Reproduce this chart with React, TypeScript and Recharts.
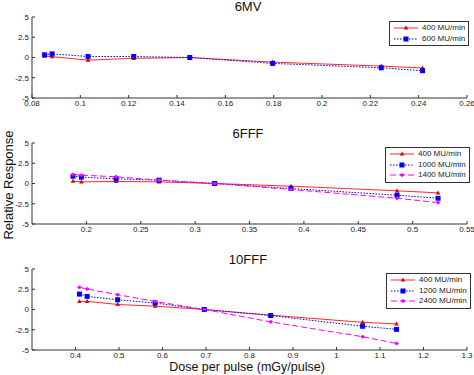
import { LineChart, Line, XAxis, YAxis, Legend } from 'recharts'

// dose per pulse (mGy/pulse) and relative response (%)
const dose6MV = [0.0852, 0.0883, 0.1032, 0.1221, 0.1453, 0.1796, 0.2245, 0.2416]
const mv6_400 = [0.16, 0.1, -0.33, -0.1, 0, -0.57, -1.06, -1.3]
const mv6_600 = [0.33, 0.45, 0.12, 0.12, 0, -0.73, -1.27, -1.63]

const dose6FFF = [0.1877, 0.1954, 0.2273, 0.2668, 0.318, 0.3882, 0.4857, 0.5234]
const fff6_400 = [0.29, 0.2, 0.25, 0.2, 0, -0.33, -0.9, -1.16]
const fff6_1000 = [0.9, 0.78, 0.58, 0.41, 0, -0.62, -1.45, -1.82]
const fff6_1400 = [1.1, 1.03, 0.83, 0.41, 0, -0.74, -1.82, -2.36]

const dose10FFF = [0.409, 0.4267, 0.4969, 0.583, 0.696, 0.8487, 1.06, 1.138]
const fff10_400 = [1.0, 1.0, 0.62, 0.41, 0, -0.7, -1.58, -1.78]
const fff10_1200 = [1.9, 1.62, 1.2, 0.8, 0, -0.75, -2.07, -2.45]
const fff10_2400 = [2.74, 2.53, 1.83, 1.0, 0, -1.53, -3.36, -4.19]

const ticks6MV = [0.08, 0.1, 0.12, 0.14, 0.16, 0.18, 0.2, 0.22, 0.24, 0.26]
const ticks6FFF = [0.2, 0.25, 0.3, 0.35, 0.4, 0.45, 0.5, 0.55]
const ticks10FFF = [0.4, 0.5, 0.6, 0.7, 0.8, 0.9, 1, 1.1, 1.2, 1.3]
const yTicks = [-5, -2.5, 0, 2.5, 5]

const FONT = '"Liberation Sans", Arial, sans-serif'

type Kind = 'red' | 'blue' | 'magenta'

const styles: Record<Kind, { stroke: string; dash?: string }> = {
  red: { stroke: '#ff2a2a' },
  blue: { stroke: '#0000ff', dash: '1.5 1.5' },
  magenta: { stroke: '#ff00ff', dash: '6 3' },
}

function Marker({ cx, cy, kind }: { cx: number; cy: number; kind: Kind }) {
  if (cx == null || cy == null) return null
  if (kind === 'red')
    return <path d={`M${cx},${cy - 2.5}L${cx + 2.3},${cy + 1.6}L${cx - 2.3},${cy + 1.6}Z`} fill="#e00000" />
  if (kind === 'blue')
    return <rect x={cx - 2.5} y={cy - 2.5} width={5} height={5} fill="#0000ff" />
  return (
    <g stroke="#ff00ff" strokeWidth={1}>
      <circle cx={cx} cy={cy} r={1.3} fill="#ff00ff" />
      <line x1={cx - 2} x2={cx + 2} y1={cy} y2={cy} />
    </g>
  )
}

interface Series {
  name: string
  values: number[]
  kind: Kind
}

function LegendBox({ series }: { series: Series[] }) {
  return (
    <div
      style={{
        border: '1px solid #333',
        background: '#fff',
        padding: '1px 3px 1px 3px',
        fontFamily: FONT,
        fontSize: 8,
        color: '#222',
        lineHeight: '10.5px',
      }}
    >
      {series.map((s) => (
        <div key={s.name} style={{ display: 'flex', alignItems: 'center', whiteSpace: 'nowrap' }}>
          <svg width={26} height={10} style={{ marginRight: 3 }}>
            <line x1={1} x2={25} y1={5} y2={5} stroke={styles[s.kind].stroke} strokeDasharray={styles[s.kind].dash} />
            <Marker cx={13} cy={5} kind={s.kind} />
          </svg>
          <span>{s.name}</span>
        </div>
      ))}
    </div>
  )
}

function Panel({
  title,
  dose,
  series,
  domain,
  ticks,
  top,
  legendLeft,
}: {
  title: string
  dose: number[]
  series: Series[]
  domain: [number, number]
  ticks: number[]
  top: number
  legendLeft: number
}) {
  const data = dose.map((d, i) => {
    const row: Record<string, number> = { dose: d }
    series.forEach((s) => (row[s.name] = s.values[i]))
    return row
  })
  const tickStyle = { fontSize: 8, fill: '#222', fontFamily: FONT }
  return (
    <div style={{ position: 'absolute', left: 0, top, width: 474, height: 125 }}>
      <div
        style={{
          position: 'absolute',
          left: 0,
          width: 496,
          top: top === 0 ? -1 : 0,
          textAlign: 'center',
          fontFamily: FONT,
          fontSize: 13,
          color: '#111',
        }}
      >
        {title}
      </div>
      <LineChart width={474} height={125} data={data} margin={{ top: 17, right: 7, left: 0, bottom: 7 }}>
        <XAxis
          dataKey="dose"
          type="number"
          domain={domain}
          ticks={ticks}
          allowDataOverflow
          interval={0}
          tickSize={-3}
          tickMargin={5}
          height={20}
          stroke="#333"
          tick={tickStyle}
          tickFormatter={(v: number) => String(Math.round(v * 1000) / 1000)}
        />
        <YAxis
          type="number"
          domain={[-5, 5]}
          ticks={yTicks}
          interval={0}
          width={32}
          tickSize={-3}
          tickMargin={6}
          stroke="#333"
          tick={tickStyle}
        />
        <Legend
          layout="vertical"
          verticalAlign="middle"
          align="center"
          content={() => <LegendBox series={series} />}
          wrapperStyle={{ position: 'absolute', left: legendLeft, top: 21, width: 'auto', height: 'auto' }}
        />
        {series.map((s) => (
          <Line
            key={s.name}
            dataKey={s.name}
            type="linear"
            stroke={styles[s.kind].stroke}
            strokeDasharray={styles[s.kind].dash}
            strokeWidth={1}
            dot={(p: any) => <Marker key={`${s.name}-${p.index}`} cx={p.cx} cy={p.cy} kind={s.kind} />}
            activeDot={false}
            isAnimationActive={false}
          />
        ))}
      </LineChart>
    </div>
  )
}

export default function App() {
  return (
    <div style={{ position: 'absolute', left: 0, top: 0, width: 474, height: 375, background: '#fff', overflow: 'hidden' }}>
      <Panel
        title="6MV"
        dose={dose6MV}
        domain={[0.08, 0.26]}
        ticks={ticks6MV}
        top={0}
        legendLeft={389}
        series={[
          { name: '400 MU/min', values: mv6_400, kind: 'red' },
          { name: '600 MU/min', values: mv6_600, kind: 'blue' },
        ]}
      />
      <Panel
        title="6FFF"
        dose={dose6FFF}
        domain={[0.15, 0.55]}
        ticks={ticks6FFF}
        top={126}
        legendLeft={385}
        series={[
          { name: '400 MU/min', values: fff6_400, kind: 'red' },
          { name: '1000 MU/min', values: fff6_1000, kind: 'blue' },
          { name: '1400 MU/min', values: fff6_1400, kind: 'magenta' },
        ]}
      />
      <Panel
        title="10FFF"
        dose={dose10FFF}
        domain={[0.3, 1.3]}
        ticks={ticks10FFF}
        top={252}
        legendLeft={386}
        series={[
          { name: '400 MU/min', values: fff10_400, kind: 'red' },
          { name: '1200 MU/min', values: fff10_1200, kind: 'blue' },
          { name: '2400 MU/min', values: fff10_2400, kind: 'magenta' },
        ]}
      />
      <div
        style={{
          position: 'absolute',
          left: 0,
          width: 494,
          top: 360,
          textAlign: 'center',
          fontFamily: FONT,
          fontSize: 12.5,
          lineHeight: '14px',
          color: '#111',
        }}
      >
        Dose per pulse (mGy/pulse)
      </div>
      <div
        style={{
          position: 'absolute',
          left: 8,
          top: 185,
          transform: 'translate(-50%, -50%) rotate(-90deg)',
          whiteSpace: 'nowrap',
          fontFamily: FONT,
          fontSize: 13,
          color: '#111',
        }}
      >
        Relative Response
      </div>
    </div>
  )
}
